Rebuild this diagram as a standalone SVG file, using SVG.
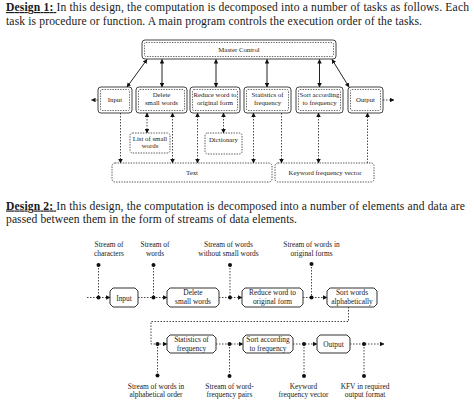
<svg xmlns="http://www.w3.org/2000/svg" width="474" height="403" viewBox="0 0 474 403">
<style>
text{font-family:"Liberation Serif","Times New Roman",serif;fill:#1a1a1a}
.hd{font-size:11.6px}
.t1{font-size:6.8px;text-anchor:middle}
.t2{font-size:7.4px;text-anchor:middle}
.outer{fill:#fff;stroke:#444;stroke-width:1}
.inner{fill:none;stroke:#444;stroke-width:0.8;stroke-dasharray:1.4 1.2}
.store{fill:#fff;stroke:#444;stroke-width:0.9;stroke-dasharray:1.4 1.2}
.solid{fill:none;stroke:#222;stroke-width:1}
.dash{fill:none;stroke:#333;stroke-width:0.9;stroke-dasharray:1.5 1.5}
.oct{fill:#fff;stroke:#333;stroke-width:1}
.dot{fill:#111}
</style>
<defs>
<marker id="ah" viewBox="0 0 10 10" refX="9" refY="5" markerWidth="4.5" markerHeight="4.5" markerUnits="userSpaceOnUse" orient="auto-start-reverse"><path d="M0,0L10,5L0,10z" fill="#111"/></marker>
</defs>

<g id="header1">
<text class="hd" x="6" y="11" textLength="463" lengthAdjust="spacing"><tspan font-weight="bold" text-decoration="underline">Design 1: </tspan>In this design, the computation is decomposed into a number of tasks as follows. Each</text>
<text class="hd" x="6" y="25" textLength="416" lengthAdjust="spacing">task is procedure or function. A main program controls the execution order of the tasks.</text>
</g>

<g id="d1-master"><rect class="outer" x="142" y="40" width="194" height="19" rx="3"/><rect class="inner" x="144.5" y="42.5" width="189" height="14" rx="1.5"/><text class="t1" x="239" y="51.5">Master Control</text></g>
<g id="d1-input"><rect class="outer" x="98" y="87" width="34" height="26" rx="3"/><rect class="inner" x="100.5" y="89.5" width="29" height="21" rx="1.5"/><text class="t1" x="115" y="102">Input</text></g>
<g id="d1-delete"><rect class="outer" x="136" y="87" width="51" height="26" rx="3"/><rect class="inner" x="138.5" y="89.5" width="46" height="21" rx="1.5"/><text class="t1" x="161.5" y="97">Delete</text><text class="t1" x="161.5" y="105">small words</text></g>
<g id="d1-reduce"><rect class="outer" x="190" y="87" width="50" height="26" rx="3"/><rect class="inner" x="192.5" y="89.5" width="45" height="21" rx="1.5"/><text class="t1" x="215" y="97">Reduce word to</text><text class="t1" x="215" y="105">original form</text></g>
<g id="d1-stats"><rect class="outer" x="244" y="87" width="47" height="26" rx="3"/><rect class="inner" x="246.5" y="89.5" width="42" height="21" rx="1.5"/><text class="t1" x="267.5" y="97">Statistics of</text><text class="t1" x="267.5" y="105">frequency</text></g>
<g id="d1-sort"><rect class="outer" x="296" y="87" width="47" height="26" rx="3"/><rect class="inner" x="298.5" y="89.5" width="42" height="21" rx="1.5"/><text class="t1" x="319.5" y="97">Sort according</text><text class="t1" x="319.5" y="105">to frequency</text></g>
<g id="d1-output"><rect class="outer" x="348" y="87" width="35" height="26" rx="3"/><rect class="inner" x="350.5" y="89.5" width="30" height="21" rx="1.5"/><text class="t1" x="365.5" y="102">Output</text></g>
<g id="d1-list"><rect class="store" x="130" y="133" width="40" height="20" rx="2.5"/><text class="t1" x="150" y="140.5">List of small</text><text class="t1" x="150" y="148">words</text></g>
<g id="d1-dict"><rect class="store" x="205" y="133" width="37" height="21" rx="2.5"/><text class="t1" x="223.5" y="141.5">Dictionary</text></g>
<g id="d1-text"><rect class="store" x="112" y="163" width="160" height="19" rx="3"/><text class="t1" x="192" y="174.5">Text</text></g>
<g id="d1-kfv"><rect class="store" x="275" y="163" width="99" height="19" rx="3"/><text class="t1" x="325" y="174.5">Keyword frequency vector</text></g>

<g id="d1-connectors">
<path class="solid" d="M147,59.5L127,87" marker-start="url(#ah)" marker-end="url(#ah)"/>
<path class="solid" d="M162,59.5V87" marker-start="url(#ah)" marker-end="url(#ah)"/>
<path class="solid" d="M216,59.5V87" marker-start="url(#ah)" marker-end="url(#ah)"/>
<path class="solid" d="M267,59.5V87" marker-start="url(#ah)" marker-end="url(#ah)"/>
<path class="solid" d="M319.5,59.5V87" marker-start="url(#ah)" marker-end="url(#ah)"/>
<path class="solid" d="M332,59.5L349,87" marker-start="url(#ah)" marker-end="url(#ah)"/>
<path class="dash" d="M98,100H91.5" marker-end="url(#ah)"/>
<path class="dash" d="M383,100H394" marker-end="url(#ah)"/>
<path class="dash" d="M120.5,113V163" marker-end="url(#ah)"/>
<path class="dash" d="M147,113V133" marker-start="url(#ah)" marker-end="url(#ah)"/>
<path class="dash" d="M172.5,113V163" marker-start="url(#ah)" marker-end="url(#ah)"/>
<path class="dash" d="M197.5,113V163" marker-start="url(#ah)" marker-end="url(#ah)"/>
<path class="dash" d="M223.5,113V133" marker-start="url(#ah)" marker-end="url(#ah)"/>
<path class="dash" d="M253.5,113V163" marker-start="url(#ah)" marker-end="url(#ah)"/>
<path class="dash" d="M281.5,113V163" marker-end="url(#ah)"/>
<path class="dash" d="M318.5,113V163" marker-start="url(#ah)" marker-end="url(#ah)"/>
<path class="dash" d="M367.5,163V113" marker-end="url(#ah)"/>
</g>

<g id="header2">
<text class="hd" x="6" y="209.5" textLength="459" lengthAdjust="spacing"><tspan font-weight="bold" text-decoration="underline">Design 2: </tspan>In this design, the computation is decomposed into a number of elements and data are</text>
<text class="hd" x="6" y="223" textLength="291" lengthAdjust="spacing">passed between them in the form of streams of data elements.</text>
</g>

<g id="d2-input"><path class="oct" d="M113,288H135L138,291V304L135,307H113L110,304V291Z"/><text class="t2" x="124" y="300.5">Input</text></g>
<g id="d2-delete"><path class="oct" d="M170,288H216L219,291V304L216,307H170L167,304V291Z"/><text class="t2" x="193" y="295">Delete</text><text class="t2" x="193" y="303.5">small words</text></g>
<g id="d2-reduce"><path class="oct" d="M245,288H300L303,291V304L300,307H245L242,304V291Z"/><text class="t2" x="272.5" y="295">Reduce word to</text><text class="t2" x="272.5" y="303.5">original form</text></g>
<g id="d2-sortwords"><path class="oct" d="M330,288H374L377,291V304L374,307H330L327,304V291Z"/><text class="t2" x="352" y="295">Sort words</text><text class="t2" x="352" y="303.5">alphabetically</text></g>
<g id="d2-stats"><path class="oct" d="M170,335H213L216,338V350L213,353H170L167,350V338Z"/><text class="t2" x="191.5" y="342">Statistics of</text><text class="t2" x="191.5" y="350.5">frequency</text></g>
<g id="d2-sortfreq"><path class="oct" d="M246,335H290L293,338V350L290,353H246L243,350V338Z"/><text class="t2" x="268" y="342">Sort according</text><text class="t2" x="268" y="350.5">to frequency</text></g>
<g id="d2-output"><path class="oct" d="M320,335H347L350,338V350L347,353H320L317,350V338Z"/><text class="t2" x="333.5" y="346.5">Output</text></g>

<g id="d2-labels">
<text class="t2" x="109" y="247">Stream of</text><text class="t2" x="109" y="255.5">characters</text>
<text class="t2" x="155" y="247">Stream of</text><text class="t2" x="155" y="255.5">words</text>
<text class="t2" x="228.5" y="247">Stream of words</text><text class="t2" x="228.5" y="255.5">without small words</text>
<text class="t2" x="311.5" y="247">Stream of words in</text><text class="t2" x="311.5" y="255.5">original forms</text>
<text class="t2" x="156" y="388.5">Stream of words in</text><text class="t2" x="156" y="397">alphabetical order</text>
<text class="t2" x="229.5" y="388.5">Stream of word-</text><text class="t2" x="229.5" y="397">frequency pairs</text>
<text class="t2" x="303.5" y="388.5">Keyword</text><text class="t2" x="303.5" y="397">frequency vector</text>
<text class="t2" x="365" y="388.5">KFV in required</text><text class="t2" x="365" y="397">output format</text>
</g>

<g id="d2-connectors">
<path class="dash" d="M87,297.5H110" marker-end="url(#ah)"/>
<path class="dash" d="M138,297.5H167" marker-end="url(#ah)"/>
<path class="dash" d="M219,297.5H242" marker-end="url(#ah)"/>
<path class="dash" d="M303,297.5H327" marker-end="url(#ah)"/>
<path class="dash" d="M98.5,265V297.5M153.5,265V297.5M230,265V297.5M311.5,264V297.5"/>
<path class="dash" d="M348.5,307V321.5H151V344H167" marker-end="url(#ah)"/>
<path class="dash" d="M216,344H243" marker-end="url(#ah)"/>
<path class="dash" d="M293,344H317" marker-end="url(#ah)"/>
<path class="dash" d="M350,344H384" marker-end="url(#ah)"/>
<path class="dash" d="M157.5,344V375.5M229.5,344V376M304,344V376M364,344V376"/>
<circle class="dot" cx="98.5" cy="297.5" r="2"/><circle class="dot" cx="98.5" cy="265" r="2"/>
<circle class="dot" cx="153.5" cy="297.5" r="2"/><circle class="dot" cx="153.5" cy="265" r="2"/>
<circle class="dot" cx="230" cy="297.5" r="2"/><circle class="dot" cx="230" cy="265" r="2"/>
<circle class="dot" cx="311.5" cy="297.5" r="2"/><circle class="dot" cx="311.5" cy="264" r="2"/>
<circle class="dot" cx="157.5" cy="344" r="2"/><circle class="dot" cx="157.5" cy="375.5" r="2"/>
<circle class="dot" cx="229.5" cy="344" r="2"/><circle class="dot" cx="229.5" cy="376" r="2"/>
<circle class="dot" cx="304" cy="344" r="2"/><circle class="dot" cx="304" cy="376" r="2"/>
<circle class="dot" cx="364" cy="344" r="2"/><circle class="dot" cx="364" cy="376" r="2"/>
</g>
</svg>
